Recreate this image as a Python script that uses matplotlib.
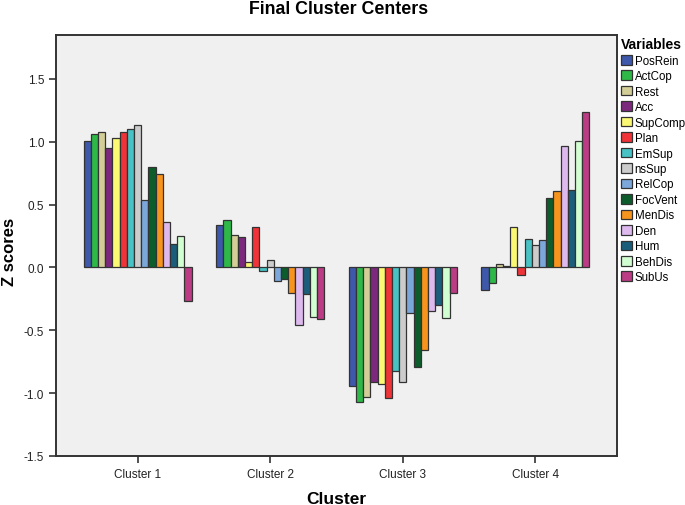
import matplotlib
matplotlib.use("Agg")
import matplotlib.pyplot as plt
import numpy as np

plt.rcParams['font.family'] = ['Liberation Sans', 'DejaVu Sans']

clusters = ["Cluster 1", "Cluster 2", "Cluster 3", "Cluster 4"]
variables = ["PosRein", "ActCop", "Rest", "Acc", "SupComp", "Plan", "EmSup",
             "nsSup", "RelCop", "FocVent", "MenDis", "Den", "Hum", "BehDis", "SubUs"]

cluster1 = [1.01, 1.06, 1.08, 0.95, 1.03, 1.08, 1.10, 1.13, 0.54, 0.80, 0.74, 0.36, 0.19, 0.25, -0.27]
cluster2 = [0.34, 0.38, 0.26, 0.24, 0.04, 0.32, -0.03, 0.06, -0.11, -0.09, -0.20, -0.46, -0.21, -0.39, -0.41]
cluster3 = [-0.94, -1.07, -1.03, -0.91, -0.93, -1.04, -0.82, -0.91, -0.36, -0.79, -0.66, -0.35, -0.30, -0.40, -0.20]
cluster4 = [-0.18, -0.12, 0.03, 0.01, 0.32, -0.06, 0.23, 0.18, 0.22, 0.55, 0.61, 0.97, 0.62, 1.01, 1.24]

colors = ["#3E58AC", "#2EB848", "#D3CE97", "#7C287D", "#FBF873", "#EF3338", "#48C2C5",
          "#CCCCCC", "#7BA7DB", "#0D5D2C", "#F7941D", "#DDB9EE", "#1B5E7B", "#D2FFD2", "#BB3C84"]

yticks = [-1.5, -1.0, -0.5, 0.0, 0.5, 1.0, 1.5]

data = np.array([cluster1, cluster2, cluster3, cluster4])

fig = plt.figure(figsize=(6.85, 5.06), dpi=100)
ax = fig.add_axes([56/685, 1-457/506, (617-56)/685, (457-36)/506])
ax.set_facecolor("#F0F0F0")

n = len(variables)
w = 0.0543
x = np.arange(len(clusters))
handles = []
for i, var in enumerate(variables):
    b = ax.bar(x + (i - (n - 1) / 2) * w, data[:, i], width=w, color=colors[i],
               edgecolor="#333333", linewidth=0.9, label=var, zorder=2)
    handles.append(b)

ax.set_xlim(-0.616, 3.616)
ax.set_ylim(-1.5, 1.85)
ax.set_xticks(x)
ax.set_xticklabels(clusters, fontsize=8.5)
ax.set_yticks(yticks)
ax.set_yticklabels([f"{v:.1f}" for v in yticks], fontsize=8.5)
ax.tick_params(axis='both', direction='out', length=5, width=1.2, color="#333333", labelcolor="#222222")
for s in ax.spines.values():
    s.set_color("#333333")
    s.set_linewidth(1.4)

ax.set_xlabel("Cluster", fontsize=12.5, fontweight='bold', labelpad=8)
fig.text(9.5/685, 1-252/506, "Z scores", rotation=90, ha='center', va='center',
         fontsize=12, fontweight='bold')
fig.text(339/685, 1-10/506, "Final Cluster Centers", ha='center', va='center',
         fontsize=12.8, fontweight='bold')

leg = fig.legend(handles=handles, labels=variables, loc='upper left',
                 bbox_to_anchor=(619/685, 1-36/506), frameon=False, fontsize=8.3,
                 title="Variables", title_fontproperties={'weight': 'bold', 'size': 10},
                 handlelength=0.9, handleheight=0.9, handletextpad=0.25,
                 labelspacing=0.3, borderaxespad=0, borderpad=0.2)
leg._legend_box.align = "left"

fig.savefig("out.png", dpi=100, facecolor="white")
